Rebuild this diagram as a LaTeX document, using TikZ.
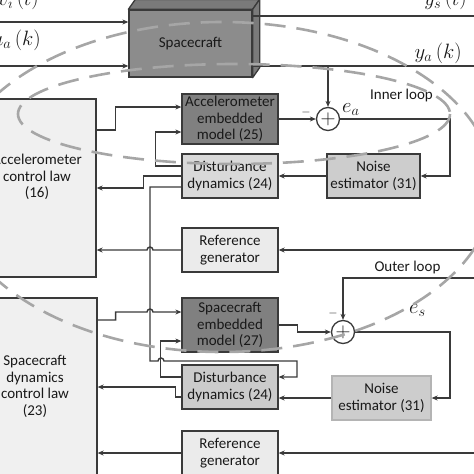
\documentclass[tikz,border=0pt]{standalone}
\usepackage{fontspec}
\setmainfont{Carlito}
\usetikzlibrary{shapes.geometric, arrows.meta}
\definecolor{wire}{HTML}{3A3A3A}
\definecolor{lightwire}{HTML}{B4B4B4}
\definecolor{modelfill}{HTML}{808080}
\definecolor{craftfill}{HTML}{8C8C8C}
\definecolor{craftdark}{HTML}{7A7A7A}
\definecolor{distfill}{HTML}{D9D9D9}
\definecolor{distfilltwo}{HTML}{CBCBCB}
\definecolor{noisefill}{HTML}{CDCDCD}
\definecolor{reffill}{HTML}{EBEBEB}
\definecolor{lawfill}{HTML}{F0F0F0}
\definecolor{loopgray}{HTML}{A6A6A6}
\tikzstyle{craft} = [rectangle, minimum width=123pt, minimum height=67pt, text centered, draw=wire, line width=1.3pt, fill=craftfill]
\tikzstyle{craftface} = [draw=wire, line width=1.3pt, fill=craftdark, line join=round]
\tikzstyle{lawbox} = [rectangle, text centered, align=center, draw=wire, line width=1.3pt, fill=lawfill]
\tikzstyle{model} = [rectangle, minimum width=96pt, minimum height=50pt, text centered, align=center, inner sep=1pt, draw=wire, line width=1.3pt, fill=modelfill]
\tikzstyle{process} = [rectangle, minimum width=96pt, minimum height=44pt, text centered, align=center, inner sep=1pt, draw=wire, line width=1.3pt, fill=distfill]
\tikzstyle{sum} = [circle, minimum size=23pt, inner sep=0pt, draw=wire, line width=1.3pt, fill=white]
\tikzstyle{sig} = [inner sep=0pt, font=\fontsize{20}{20}\selectfont]
\tikzstyle{wireline} = [draw=wire, line width=1.4pt]
\tikzstyle{arrow} = [draw=wire, line width=1.4pt, ->, >={Stealth[length=6pt, width=5pt]}]
\tikzstyle{looppath} = [draw=loopgray, line width=2.6pt, dash pattern=on 21pt off 11pt]
\begin{document}
\begin{tikzpicture}[x=1pt, y=-1pt, node distance=57pt, font=\fontsize{15}{16.5}\selectfont, text=black!90]
      \useasboundingbox (0,0) rectangle (474,474);
      % Nodes
      \node (sc) [craft] at (190.5,43.5) {Spacecraft};
      \node (law1) [lawbox, minimum width=118pt, minimum height=178pt, text depth=24pt] at (37,188) {Accelerometer\\control law\\(16)};
      \node (law2) [lawbox, minimum width=124pt, minimum height=192pt, text depth=17pt] at (35,394) {Spacecraft\\dynamics\\control law\\(23)};
      \node (accmod) [model] at (230,119) {Accelerometer\\embedded\\model (25)};
      \node (dist1) [process, below of=accmod] {Disturbance\\dynamics (24)};
      \node (ref1) [process, fill=reffill, below of=dist1, yshift=-17pt] {Reference\\generator};
      \node (scmod) [model, minimum height=54pt, below of=ref1, yshift=-18pt] {Spacecraft\\embedded\\model (27)};
      \node (dist2) [process, fill=distfilltwo, below of=scmod, yshift=-5pt] {Disturbance\\dynamics (24)};
      \node (ref2) [process, fill=reffill, below of=dist2, yshift=-9pt] {Reference\\generator};
      \node (noise1) [process, fill=noisefill, minimum width=93pt] at (373.5,176) {Noise\\estimator (31)};
      \node (noise2) [process, fill=noisefill, draw=lightwire, minimum width=99pt] at (381.5,398) {Noise\\estimator (31)};
      \node (sum1) [sum] at (328,119) {\fontsize{22}{22}\selectfont$+$};
      \node (sum2) [sum] at (343,332) {\fontsize{22}{22}\selectfont$+$};
      % Spacecraft box faces
      \filldraw [craftface] (sc.north west) -- ++(7,-10) -- ([shift={(7,-10)}]sc.north east) -- (sc.north east) -- cycle;
      \filldraw [craftface] (sc.north east) -- ++(7,-10) -- ([shift={(7,-10)}]sc.south east) -- (sc.south east) -- cycle;
      % Labels
      \node [sig, anchor=base east] at (39,5) {$w_i\left(t\right)$};
      \node [sig, anchor=base east] at (41,45) {$u_a\left(k\right)$};
      \node [sig, anchor=base east] at (467,5) {$y_s\left(t\right)$};
      \node [sig, anchor=base east] at (462,58) {$y_a\left(k\right)$};
      \node [sig, anchor=base west] at (342,112) {$e_a$};
      \node [sig, anchor=base west] at (409,313) {$e_s$};
      \node [inner sep=0pt, font=\fontsize{12}{12}\selectfont] at (306,112) {$-$};
      \node [inner sep=0pt, font=\fontsize{12}{12}\selectfont] at (333,313) {$-$};
      \node at (401.5,95) {Inner loop};
      \node at (407.5,267) {Outer loop};
      % Free ends
      \coordinate (inw) at (-5,22);
      \coordinate (inu) at (-5,66);
      \coordinate (outs) at (480,16);
      \coordinate (outa) at (480,66);
      \coordinate (rbus) at (450,0);
      \coordinate (ref1in) at (480,250);
      \coordinate (outer) at (480,278);
      \coordinate (ref2in) at (480,453);
      % Arrows
      \draw [arrow] (inw) -- (inw -| sc.west);
      \draw [arrow] (inu) -- (inu -| sc.west);
      \draw [wireline] (sc.east |- outs) -- (outs);
      \draw [wireline] (sc.east |- outa) -- (outa);
      \draw [arrow] (sum1 |- outa) -- (sum1);
      \draw [arrow] (accmod) -- (sum1);
      \draw [arrow] (sum1) -- (sum1 -| rbus) |- (noise1);
      \draw [arrow] (noise1) -- (dist1);
      \draw [arrow] ([yshift=10pt]dist1.west) -- ++(-26,0) |- ([yshift=-13pt]accmod.west);
      \draw [arrow] (dist1.west) -- ++(-38,0) |- (law1);
      \draw [arrow] ([yshift=-11pt]dist1.west) -| (150,361) -- (158,361) arc[start angle=180, end angle=360, radius=3] -- (297,361) |- ([yshift=10pt]dist2.east);
      \draw [arrow] ([yshift=58pt]law1.east) -- ++(19,0) |- ([yshift=12pt]accmod.west);
      \draw [arrow] (ref1in) -- (ref1);
      \draw [arrow] (ref1.west) -- (153,250) arc[start angle=0, end angle=-180, radius=3] -- (ref1.west -| law1.east);
      \draw [arrow] (outer) -| (sum2);
      \draw [arrow] (scmod.east) -- ++(19,0) |- (sum2);
      \draw [arrow] (sum2) -- (sum2 -| rbus) |- (noise2);
      \draw [arrow] (noise2) -- (noise2 -| dist2.east);
      \draw [arrow] ([yshift=10pt]dist2.west) -- ++(-21,0) |- ([yshift=-16pt]scmod.west);
      \draw [arrow] ([yshift=-10pt]dist2.west) -- ++(-6,0) |- ([yshift=7pt]law2.east);
      \draw [arrow] ([yshift=74pt]law2.east) -- ++(18,0) |- (147,312) arc[start angle=180, end angle=360, radius=3] -- ([yshift=13pt]scmod.west);
      \draw [arrow] (ref2in) -- (ref2);
      \draw [arrow] (ref2) -- (ref2 -| law2.east);
      % Loops
      \draw [looppath] (234,114) ellipse [x radius=216, y radius=50];
      \draw [looppath] (222,187) ellipse [x radius=272, y radius=165];
    \end{tikzpicture}
\end{document}
